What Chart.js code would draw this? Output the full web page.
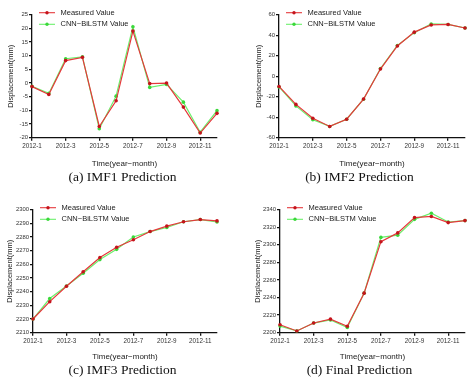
<!DOCTYPE html>
<html>
<head>
<meta charset="utf-8">
<script src="https://cdn.jsdelivr.net/npm/chart.js"></script>
<style>
  html, body { margin: 0; padding: 0; background: #fff; }
  #wrap { position: relative; width: 474px; height: 386px; overflow: hidden; }
  .panel { position: absolute; width: 237px; height: 193px; }
  .caption { position: absolute; width: 237px; text-align: center;
    font-family: "Liberation Serif", "Times New Roman", serif; font-size: 13.5px; color: #111; }
</style>
</head>
<body>
<div id="wrap">
  <canvas id="c1" class="panel" width="237" height="193" style="left:0;top:0"></canvas>
  <canvas id="c2" class="panel" width="237" height="193" style="left:237px;top:0"></canvas>
  <canvas id="c3" class="panel" width="237" height="193" style="left:0;top:193px"></canvas>
  <canvas id="c4" class="panel" width="237" height="193" style="left:237px;top:193px"></canvas>
  <div class="caption" style="left:4px;top:169px">(a) IMF1 Prediction</div>
  <div class="caption" style="left:241px;top:169px">(b) IMF2 Prediction</div>
  <div class="caption" style="left:4px;top:362px">(c) IMF3 Prediction</div>
  <div class="caption" style="left:241px;top:362px">(d) Final Prediction</div>
</div>
<script>
  var months = ['2012-1','2012-2','2012-3','2012-4','2012-5','2012-6','2012-7','2012-8','2012-9','2012-10','2012-11','2012-12'];
  var seriesNames = ['Measured Value', 'CNN\u2212BiLSTM Value'];

  var imf1Measured  = [-1.3, -4.2, 8.2, 9.4, -15.9, -6.5, 19.0, -0.2, 0.0, -8.8, -18.3, -11.1];
  var imf1Predicted = [-1.2, -3.8, 8.9, 9.6, -16.7, -4.8, 20.6, -1.6, -0.5, -7.0, -18.0, -10.1];

  var imf2Measured  = [-10, -27.5, -41, -49, -42, -22.3, 7, 29.5, 43, 50, 50.5, 47];
  var imf2Predicted = [-10.5, -29, -42.5, -49, -42, -22.5, 7.5, 30, 42.5, 51, 50.5, 47];

  var imf3Measured  = [2220, 2232.7, 2244, 2254.6, 2265, 2272.5, 2278, 2284, 2288, 2291.2, 2292.8, 2291.8];
  var imf3Predicted = [2220, 2235, 2244.2, 2253.5, 2263.5, 2271, 2280, 2284, 2287, 2291.2, 2292.8, 2291];

  var finalMeasured  = [2209, 2202, 2211, 2215.5, 2207.3, 2245, 2303.6, 2313.6, 2331, 2332.3, 2325.3, 2327.6];
  var finalPredicted = [2207.5, 2202, 2211, 2214.5, 2206, 2245, 2308.5, 2311, 2329, 2336, 2326, 2327.6];

  // [min, max, step]
  var imf1Range  = [-20, 25, 5];
  var imf2Range  = [-60, 60, 20];
  var imf3Range  = [2210, 2300, 10];
  var finalRange = [2200, 2340, 20];

  var red = '#e5383b', redDot = '#c4141c';
  var green = '#6cf06c', greenDot = '#3bd83b';
  var sans = '"Liberation Sans", Arial, sans-serif';

  // legend drawn inside the plot, top-left
  var innerLegend = {
    id: 'innerLegend',
    afterDraw: function(chart) {
      var ctx = chart.ctx, area = chart.chartArea;
      ctx.save();
      chart.data.datasets.forEach(function(ds, i) {
        var y = area.top - 2 + i * 11.6;
        var x0 = area.left + 7, x1 = area.left + 23;
        ctx.strokeStyle = ds.borderColor;
        ctx.lineWidth = 1.1;
        ctx.beginPath(); ctx.moveTo(x0, y); ctx.lineTo(x1, y); ctx.stroke();
        ctx.fillStyle = ds.pointBackgroundColor;
        ctx.beginPath(); ctx.arc((x0 + x1) / 2, y, 1.7, 0, Math.PI * 2); ctx.fill();
        ctx.fillStyle = '#222';
        ctx.font = '7.5px ' + sans;
        ctx.textBaseline = 'middle';
        ctx.fillText(ds.label, area.left + 28.5, y);
      });
      ctx.restore();
    }
  };

  function makeChart(id, measured, predicted, range, box) {
    new Chart(document.getElementById(id), {
      type: 'line',
      data: {
        labels: months,
        datasets: [{
          label: seriesNames[0],
          data: measured,
          borderColor: red,
          backgroundColor: redDot,
          pointBackgroundColor: redDot,
          pointBorderWidth: 0,
          pointRadius: 1.8,
          borderWidth: 1.2,
          tension: 0
        }, {
          label: seriesNames[1],
          data: predicted,
          borderColor: green,
          backgroundColor: greenDot,
          pointBackgroundColor: greenDot,
          pointBorderWidth: 0,
          pointRadius: 1.8,
          borderWidth: 1.2,
          tension: 0
        }]
      },
      options: {
        responsive: false,
        animation: false,
        layout: { padding: { left: 0, top: box.top, right: 237 - box.right, bottom: 0 } },
        plugins: { legend: { display: false }, tooltip: { enabled: false } },
        scales: {
          x: {
            offset: false,
            afterFit: function(s) { s.height = 193 - box.bottom; },
            border: { color: '#111', width: 1.3 },
            grid: {
              drawOnChartArea: false, tickLength: 3, lineWidth: 1.3,
              color: function(c) { return c.index % 2 === 0 ? '#111' : 'rgba(0,0,0,0)'; }
            },
            ticks: {
              autoSkip: false, maxRotation: 0, padding: 2, color: '#333',
              font: { size: 6.3, family: sans },
              callback: function(v, i) { return i % 2 === 0 ? months[i] : ''; }
            },
            title: {
              display: true, text: 'Time(year\u2212month)', color: '#222',
              font: { size: 8, family: sans },
              padding: { top: 0, bottom: 24.8 }
            }
          },
          y: {
            min: range[0], max: range[1],
            afterFit: function(s) { s.width = box.left; },
            border: { color: '#111', width: 1.3 },
            grid: { drawOnChartArea: false, tickLength: 3, color: '#111', lineWidth: 1.3 },
            ticks: {
              stepSize: range[2], padding: 1, color: '#333',
              font: { size: 5.9, family: sans },
              callback: function(v) { return String(v); }
            },
            title: {
              display: true, text: 'Displacement(mm)', color: '#222',
              font: { size: 7.5, family: sans },
              padding: { top: box.ytitle, bottom: 0 }
            }
          }
        }
      },
      plugins: [innerLegend]
    });
  }

  makeChart('c1', imf1Measured, imf1Predicted, imf1Range, { left: 32, right: 217, top: 14.7, bottom: 137.7, ytitle: 6 });
  makeChart('c2', imf2Measured, imf2Predicted, imf2Range, { left: 42, right: 228, top: 14.7, bottom: 137.7, ytitle: 17 });
  makeChart('c3', imf3Measured, imf3Predicted, imf3Range, { left: 33, right: 217, top: 16.7, bottom: 139.7, ytitle: 5.5 });
  makeChart('c4', finalMeasured, finalPredicted, finalRange, { left: 43, right: 228, top: 16.7, bottom: 139.7, ytitle: 16.5 });
</script>
</body>
</html>
